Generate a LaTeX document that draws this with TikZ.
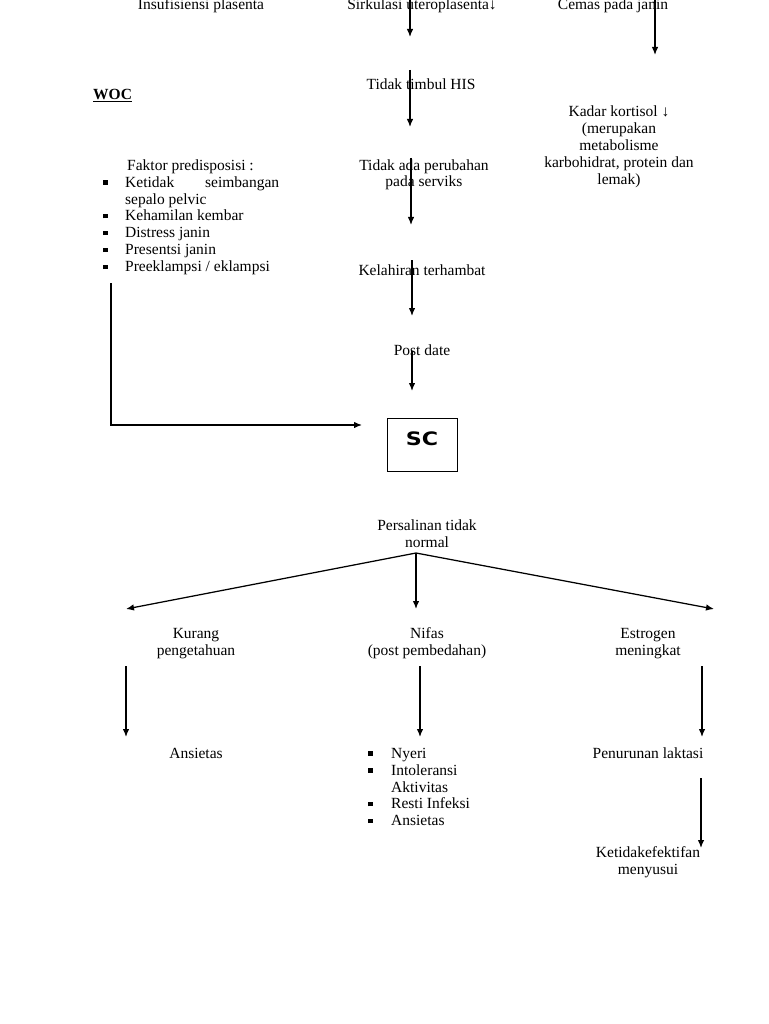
\documentclass[tikz,border=0pt]{standalone}
\usepackage{fontspec}
\setmainfont{Liberation Serif}
\setsansfont{DejaVu Sans}
\usetikzlibrary{arrows.meta}
\newcommand{\sqbul}{\rule[2.6pt]{4.5pt}{4.5pt}}
\begin{document}
\begin{tikzpicture}[x=1pt,y=-1pt,
  lbl/.style={align=center, inner sep=0pt, anchor=base, font=\fontsize{15.5}{16.9}\selectfont},
  lst/.style={inner sep=0pt, anchor=north west, font=\fontsize{15.5}{16.9}\selectfont},
  arr/.style={-{Latex[length=8pt,width=6.5pt]}, line width=1.25pt},
  scbox/.style={draw, line width=1pt, minimum width=70pt, minimum height=53pt, inner sep=0pt, text height=13.5pt, text depth=12pt, font=\sffamily\bfseries\fontsize{18.5}{18.5}\selectfont}]
\useasboundingbox (0,0) rectangle (768,1024);
\fill[white] (0,0) rectangle (768,1024);

% texts (base anchor = baseline of the last line)
\node[lbl] (ins) at (201,9.5) {Insufisiensi plasenta};
\node[lbl] (sirk) at (422,9.5) {Sirkulasi uteroplasenta↓};
\node[lbl] (cemas) at (613,9.5) {Cemas pada janin};
\node[lbl, anchor=base west] (woc) at (93,100) {\textbf{\underline{WOC}}};
\node[lbl] (his) at (421,90) {Tidak timbul HIS};
\node[lbl] (kort) at (619,184.5) {Kadar kortisol ↓\\(merupakan\\metabolisme\\karbohidrat, protein dan\\lemak)};
\node[lbl] (serv) at (424,187) {Tidak ada perubahan\\pada serviks};
\node[lst] (fak) at (103,158.2) {\begin{tabular}{@{}p{22pt}@{}l@{}}
\multicolumn{2}{@{}l@{}}{\hspace{24pt}Faktor predisposisi :}\\
\sqbul & \makebox[154pt][l]{Ketidak\hfill seimbangan}\\
 & sepalo pelvic\\
\sqbul & Kehamilan kembar\\
\sqbul & Distress janin\\
\sqbul & Presentsi janin\\
\sqbul & Preeklampsi / eklampsi
\end{tabular}};
\node[lbl] (kel) at (422,275) {Kelahiran terhambat};
\node[lbl] (post) at (422,355) {Post date};
\node[scbox] (sc) at (422,444.5) {\scalebox{1.2}[1]{SC}};
\node[lbl] (pers) at (427,547) {Persalinan tidak\\normal};
\node[lbl] (kur) at (196,655) {Kurang\\pengetahuan};
\node[lbl] (nif) at (427,655) {Nifas\\(post pembedahan)};
\node[lbl] (est) at (648,655) {Estrogen\\meningkat};
\node[lbl] (ans) at (196,758) {Ansietas};
\node[lst] (nlist) at (368,746.2) {\begin{tabular}{@{}p{23pt}@{}l@{}}
\sqbul & Nyeri\\
\sqbul & Intoleransi\\
 & Aktivitas\\
\sqbul & Resti Infeksi\\
\sqbul & Ansietas
\end{tabular}};
\node[lbl] (pen) at (648,758) {Penurunan laktasi};
\node[lbl] (ket) at (648,874) {Ketidakefektifan\\menyusui};

% connector end points
\coordinate (a1s) at (410,0);   \coordinate (a1e) at (410,37);
\coordinate (aRs) at (655,0);   \coordinate (aRe) at (655,55);
\coordinate (a2s) at (410,70);  \coordinate (a2e) at (410,127);
\coordinate (a3s) at (411,158); \coordinate (a3e) at (411,225);
\coordinate (a4s) at (412,260); \coordinate (a4e) at (412,316);
\coordinate (a5s) at (412,351); \coordinate (a5e) at (412,391);
\coordinate (Lt) at (111,283);  \coordinate (Le) at (362,425);
\coordinate (fan) at (416,553);
\coordinate (fl) at (126,609);  \coordinate (fm) at (416,609); \coordinate (fr) at (714,609);
\coordinate (b1s) at (126,666); \coordinate (b1e) at (126,737);
\coordinate (b2s) at (420,666); \coordinate (b2e) at (420,737);
\coordinate (b3s) at (702,666); \coordinate (b3e) at (702,737);
\coordinate (c1s) at (701,778); \coordinate (c1e) at (701,848);

\draw[arr] (a1s) -- (a1e);
\draw[arr] (aRs) -- (aRe);
\draw[arr] (a2s) -- (a2e);
\draw[arr] (a3s) -- (a3e);
\draw[arr] (a4s) -- (a4e);
\draw[arr] (a5s) -- (a5e);
\draw[arr] (Lt) |- (Le);
\draw[arr] (fan) -- (fl);
\draw[arr] (fan) -- (fm);
\draw[arr] (fan) -- (fr);
\draw[arr] (b1s) -- (b1e);
\draw[arr] (b2s) -- (b2e);
\draw[arr] (b3s) -- (b3e);
\draw[arr] (c1s) -- (c1e);
\end{tikzpicture}
\end{document}
